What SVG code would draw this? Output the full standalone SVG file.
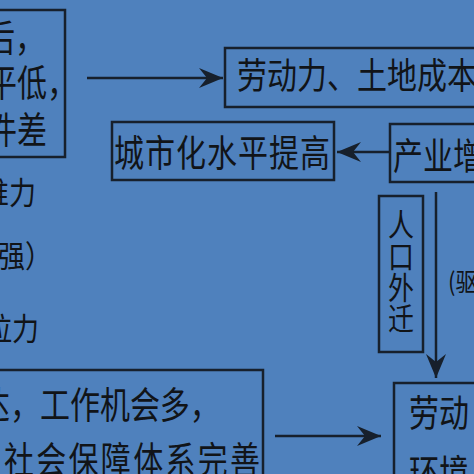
<svg xmlns="http://www.w3.org/2000/svg" width="474" height="474" viewBox="0 0 474 474">
<defs>
<style>
.bg{fill:#4f81bd}
.box{fill:none;stroke:#17202c;stroke-width:2.5}
.ln{fill:none;stroke:#17202c;stroke-width:2.5}
text{font-family:"Noto Sans CJK SC","Noto Sans CJK JP",sans-serif;fill:#111418}
.t30{font-size:30px}
.t28{font-size:28px}
.t27{font-size:27px}
.t26{font-size:26px}
.t22{font-size:22px}
</style>
<marker id="ah" viewBox="-25 -11 25 22" markerWidth="25" markerHeight="22" refX="0" refY="0" orient="auto" markerUnits="userSpaceOnUse">
<path d="M0,0 L-24,-10 L-16,0 L-24,10 Z" fill="#17202c"/>
</marker>
</defs>
<rect class="bg" x="0" y="0" width="474" height="474"/>

<g id="connectors">
<line class="ln" x1="87" y1="78" x2="223" y2="78" marker-end="url(#ah)"/>
<line class="ln" x1="390" y1="152" x2="337" y2="152" marker-end="url(#ah)"/>
<line class="ln" x1="436" y1="192" x2="436" y2="378" marker-end="url(#ah)"/>
<line class="ln" x1="275" y1="436" x2="381" y2="436" marker-end="url(#ah)"/>
</g>

<g id="node-origin">
<rect class="box" x="-10" y="10" width="75" height="147"/>
<text class="t30" transform="translate(-105,52) scale(1,1.25)">经济落后，</text>
<text class="t30" transform="translate(-103,97) scale(1,1.25)">收入水平低，</text>
<text class="t30" transform="translate(-103,144) scale(1,1.25)">生活条件差</text>
</g>

<g id="label-push">
<text class="t27" transform="translate(-18,204) scale(1,1.15)">推力</text>
</g>
<g id="label-strong">
<text class="t27" transform="translate(-2,267) scale(1,1.15)">强）</text>
</g>
<g id="label-pull">
<text class="t27" transform="translate(-15,340) scale(1,1.15)">拉力</text>
</g>

<g id="node-cost">
<rect class="box" x="225" y="48" width="270" height="59"/>
<text class="t30" transform="translate(237,89) scale(1,1.2)">劳动力、土地成本</text>
</g>

<g id="node-urban">
<rect class="box" x="112" y="122" width="222" height="58"/>
<text class="t30" transform="translate(114,167) scale(1,1.25)" textLength="216">城市化水平提高</text>
</g>

<g id="node-industry">
<rect class="box" x="390" y="124" width="100" height="58"/>
<text class="t30" transform="translate(393,170) scale(1,1.25)">产业增</text>
</g>

<g id="node-migration">
<rect class="box" x="379" y="196" width="44" height="156"/>
<text class="t26" writing-mode="vertical-rl" transform="translate(401,209) scale(1,1.2)" x="0" y="0">人口外迁</text>
</g>

<g id="label-drive">
<text class="t22" transform="translate(448,291) scale(1,1.15)">(驱</text>
</g>

<g id="node-destination">
<rect class="box" x="-10" y="370" width="273" height="120"/>
<text class="t30" transform="translate(-50,419) scale(1,1.25)">发达，工作机会多，</text>
<text class="t30" transform="translate(4,474) scale(1,1.25)" textLength="256">社会保障体系完善</text>
</g>

<g id="node-labor">
<rect class="box" x="394" y="383" width="100" height="100"/>
<text class="t30" transform="translate(409,427) scale(1,1.25)">劳动</text>
<text class="t30" transform="translate(409,487) scale(1,1.25)">环境</text>
</g>
</svg>
